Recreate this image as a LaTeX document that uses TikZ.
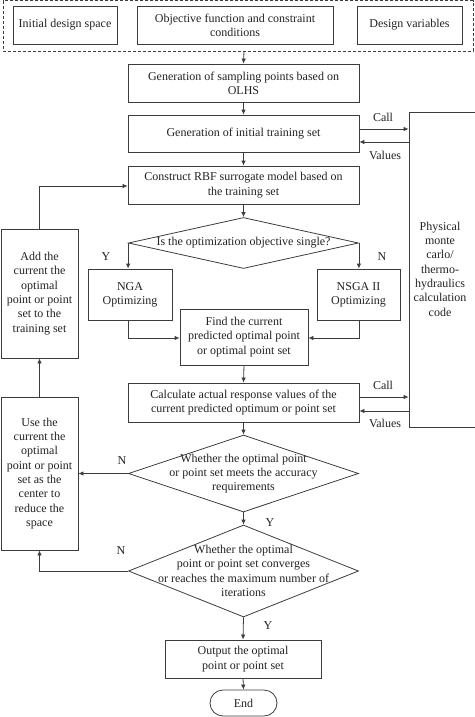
\documentclass[tikz,border=0pt]{standalone}
\usepackage{fontspec}
\setmainfont{Liberation Serif}
\usetikzlibrary{shapes.geometric,arrows.meta}
\definecolor{ln}{HTML}{3C3C3C}
\definecolor{tx}{HTML}{222222}
\tikzset{
  box/.style={draw=ln, line width=0.8pt, rectangle, inner sep=1pt, align=center, text=tx, font=\fontsize{12}{14.3}\selectfont},
  dia/.style={draw=ln, line width=0.8pt, diamond, inner sep=0pt},
  txt/.style={align=center, inner sep=0pt, text=tx, font=\fontsize{12}{14.3}\selectfont},
  lab/.style={inner sep=0pt, text=tx, font=\fontsize{12}{14}\selectfont},
  arr/.style={draw=ln, line width=0.8pt, -{Latex[length=5pt,width=4.5pt]}},
  ln/.style={draw=ln, line width=0.8pt}
}
\begin{document}
\begin{tikzpicture}[x=1pt,y=-1pt]
\useasboundingbox (0,0) rectangle (474,717);
% top dashed group
\draw[ln, dashed, dash pattern=on 3pt off 2pt] (3,0.8) rectangle (473,51);
\coordinate (grp) at (244,51);
\node[box, minimum width=104pt, minimum height=38pt] (n1) at (65,25) {Initial design space};
\node[box, minimum width=196pt, minimum height=38pt] (n2) at (235,25) {Objective function and constraint\\conditions};
\node[box, minimum width=105pt, minimum height=38pt] (n3) at (409.5,25) {Design variables};
% main flow
\node[box, minimum width=231pt, minimum height=38pt] (b1) at (243.5,83) {Generation of sampling points based on\\OLHS};
\node[box, minimum width=231pt, minimum height=37pt] (b2) at (243.5,133.5) {Generation of initial training set};
\node[box, minimum width=231pt, minimum height=38pt] (b3) at (243.5,185) {Construct RBF surrogate model based on\\the training set};
\node[dia, minimum width=230pt, minimum height=51pt] (d1) at (243.5,243) {};
\node[txt] at (d1) {Is the optimization objective single?};
\node[box, minimum width=84pt, minimum height=51pt] (nga) at (130,294.5) {NGA\\Optimizing};
\node[box, minimum width=83pt, minimum height=51pt] (nsga) at (358.5,294.5) {NSGA II\\Optimizing};
\node[box, minimum width=128pt, minimum height=56pt] (find) at (244,337) {Find the current\\predicted optimal point\\or optimal point set};
\node[box, minimum width=231pt, minimum height=39pt] (calc) at (243.5,402.5) {Calculate actual response values of the\\current predicted optimum or point set};
\node[dia, minimum width=230pt, minimum height=77pt] (d2) at (243.5,473.5) {};
\node[txt] at (d2) {Whether the optimal point\\or point set meets the accuracy\\requirements};
\node[dia, minimum width=230pt, minimum height=92pt] (d3) at (243.5,571) {};
\node[txt] at (d3) {Whether the optimal\\point or point set converges\\or reaches the maximum number of\\iterations};
\node[box, minimum width=156pt, minimum height=38pt] (out) at (243,659) {Output the optimal\\point or point set};
\node[box, rounded corners=13pt, minimum width=67pt, minimum height=26pt] (end) at (243.5,703) {End};
% left boxes
\node[box, minimum width=77pt, minimum height=129pt] (add) at (39.5,293.5) {Add the\\current the\\optimal\\point or point\\set to the\\training set};
\node[box, minimum width=77pt, minimum height=153pt] (use) at (39.5,473.5) {Use the\\current the\\optimal\\point or point\\set as the\\center to\\reduce the\\space};
% physical code box
\node[box, minimum width=70pt, minimum height=315pt] (phys) at (444,269.5) {};
\node[txt] at (440,269) {Physical\\monte\\carlo/\\thermo-\\hydraulics\\calculation\\code};
% connectors
\draw[arr] (grp) -- (b1.north);
\draw[arr] (b1.south) -- (b2.north);
\draw[arr] (b2.south) -- (b3.north);
\draw[arr] (b3.south) -- (d1.north);
\draw[arr] (d1.west) -- (d1.west |- nga.north);
\draw[arr] (d1.east) -- (d1.east |- nsga.north);
\draw[arr] (d1.west |- nga.south) |- ([yshift=-1pt]find.west);
\draw[arr] (d1.east |- nsga.south) |- ([yshift=-1pt]find.east);
\draw[arr] (find.south) -- (calc.north);
\draw[arr] (calc.south) -- (d2.north);
\draw[arr] (d2.south) -- (d3.north);
\draw[arr] (d3.south) -- (out.north);
\draw[arr] (out.south) -- (end.north);
\draw[arr] (d2.west) -- (d2.west -| use.east);
\draw[arr] (d3.west) -| (use.south);
\draw[arr] (use.north) -- (add.south);
\draw[arr] (add.north) |- ([yshift=-1pt]b3.west);
% call / values
\draw[arr] ([yshift=4.5pt]b2.east) -- ([yshift=4.5pt]b2.east -| phys.west);
\draw[arr] ([yshift=-8.5pt]b2.east -| phys.west) -- ([yshift=-8.5pt]b2.east);
\draw[arr] ([yshift=5.5pt]calc.east) -- ([yshift=5.5pt]calc.east -| phys.west);
\draw[arr] ([yshift=-8.5pt]calc.east -| phys.west) -- ([yshift=-8.5pt]calc.east);
\node[lab] (c1) at (383,117) {Call};
\node[lab] (v1) at (385,155) {Values};
\node[lab] (c2) at (383,385) {Call};
\node[lab] (v2) at (385,423) {Values};
% Y / N labels
\node[lab] (y1) at (106,257) {Y};
\node[lab] (n1l) at (382,257) {N};
\node[lab] (n2l) at (122,461) {N};
\node[lab] (y2) at (270,523) {Y};
\node[lab] (n3l) at (121,551) {N};
\node[lab] (y3) at (268,626) {Y};
\end{tikzpicture}
\end{document}
